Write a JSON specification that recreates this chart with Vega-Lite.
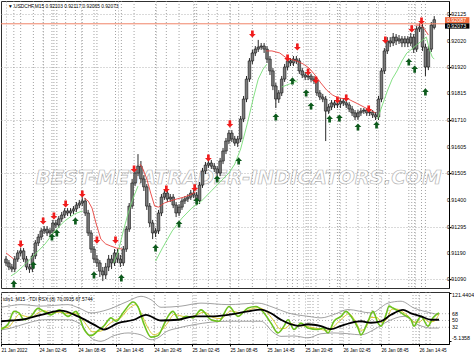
{
"$schema":"https://vega.github.io/schema/vega-lite/v6.json",
"padding":0,
"background":"white",
"config":{"view":{"stroke":"#303030","strokeWidth":1},"axis":{"labelFont":"Liberation Sans","labelColor":"#000","domainColor":"#000","tickColor":"#000","titleFontSize":0,"titlePadding":0,"labelOverlap":false}},
"datasets":{
"pticks":[{"v":0.92125},{"v":0.9202},{"v":0.9192},{"v":0.91815},{"v":0.9171},{"v":0.91605},{"v":0.91505},{"v":0.914},{"v":0.91295},{"v":0.9119},{"v":0.9109}],
"candles":[
{"k":0,"o":0.91168,"h":0.9118,"l":0.91141,"c":0.91153},{"k":3,"o":0.91153,"h":0.91164,"l":0.91125,"c":0.91137},{"k":6,"o":0.91137,"h":0.91149,"l":0.91117,"c":0.91129},{"k":9,"o":0.91129,"h":0.9118,"l":0.91117,"c":0.91168},{"k":12,"o":0.91168,"h":0.91203,"l":0.91157,"c":0.91192},{"k":15,"o":0.91192,"h":0.91211,"l":0.9118,"c":0.912},{"k":18,"o":0.912,"h":0.91211,"l":0.91157,"c":0.91168},{"k":21,"o":0.91168,"h":0.9118,"l":0.91125,"c":0.91137},{"k":24,"o":0.91137,"h":0.91149,"l":0.91114,"c":0.91129},{"k":27,"o":0.91129,"h":0.91192,"l":0.91117,"c":0.9118},
{"k":30,"o":0.9118,"h":0.91242,"l":0.91168,"c":0.91231},{"k":33,"o":0.91231,"h":0.91266,"l":0.91219,"c":0.91254},{"k":36,"o":0.91254,"h":0.91289,"l":0.91242,"c":0.91278},{"k":39,"o":0.91278,"h":0.91297,"l":0.91266,"c":0.91285},{"k":42,"o":0.91285,"h":0.91297,"l":0.91258,"c":0.9127},{"k":45,"o":0.9127,"h":0.91289,"l":0.91258,"c":0.91278},{"k":48,"o":0.91278,"h":0.91321,"l":0.91266,"c":0.91309},{"k":51,"o":0.91309,"h":0.91321,"l":0.91289,"c":0.91301},{"k":54,"o":0.91301,"h":0.91336,"l":0.91289,"c":0.91325},{"k":57,"o":0.91325,"h":0.91352,"l":0.91313,"c":0.9134},
{"k":60,"o":0.9134,"h":0.91367,"l":0.91328,"c":0.91356},{"k":63,"o":0.91356,"h":0.91367,"l":0.91336,"c":0.91348},{"k":66,"o":0.91348,"h":0.91367,"l":0.91336,"c":0.91356},{"k":69,"o":0.91356,"h":0.91375,"l":0.91344,"c":0.91364},{"k":72,"o":0.91364,"h":0.91391,"l":0.91352,"c":0.91379},{"k":75,"o":0.91379,"h":0.91399,"l":0.91367,"c":0.91387},{"k":78,"o":0.91387,"h":0.9141,"l":0.91375,"c":0.91395},{"k":81,"o":0.91395,"h":0.91406,"l":0.91336,"c":0.91348},{"k":84,"o":0.91348,"h":0.9136,"l":0.91258,"c":0.9127},{"k":87,"o":0.9127,"h":0.91281,"l":0.91192,"c":0.91207},
{"k":90,"o":0.91207,"h":0.91219,"l":0.91153,"c":0.91168},{"k":93,"o":0.91168,"h":0.91184,"l":0.91137,"c":0.91153},{"k":96,"o":0.91153,"h":0.91164,"l":0.91098,"c":0.91121},{"k":99,"o":0.91121,"h":0.91137,"l":0.91082,"c":0.91106},{"k":102,"o":0.91106,"h":0.91153,"l":0.9109,"c":0.91137},{"k":105,"o":0.91137,"h":0.91184,"l":0.91121,"c":0.91168},{"k":108,"o":0.91168,"h":0.91184,"l":0.91129,"c":0.91153},{"k":111,"o":0.91153,"h":0.91207,"l":0.91141,"c":0.91192},{"k":114,"o":0.91192,"h":0.91207,"l":0.91153,"c":0.91168},{"k":117,"o":0.91168,"h":0.91184,"l":0.91137,"c":0.91153},
{"k":120,"o":0.91153,"h":0.91219,"l":0.91141,"c":0.91207},{"k":123,"o":0.91207,"h":0.91297,"l":0.91196,"c":0.91285},{"k":126,"o":0.91285,"h":0.91387,"l":0.91274,"c":0.91375},{"k":129,"o":0.91375,"h":0.91481,"l":0.91364,"c":0.91465},{"k":132,"o":0.91465,"h":0.9152,"l":0.91453,"c":0.91504},{"k":135,"o":0.91504,"h":0.91578,"l":0.91492,"c":0.91531},{"k":138,"o":0.91531,"h":0.91551,"l":0.91465,"c":0.91481},{"k":141,"o":0.91481,"h":0.91496,"l":0.91434,"c":0.9145},{"k":144,"o":0.9145,"h":0.91461,"l":0.9136,"c":0.91375},{"k":147,"o":0.91375,"h":0.91387,"l":0.91293,"c":0.91309},
{"k":150,"o":0.91309,"h":0.91321,"l":0.91246,"c":0.9127},{"k":153,"o":0.9127,"h":0.91289,"l":0.91254,"c":0.91278},{"k":156,"o":0.91278,"h":0.9136,"l":0.91266,"c":0.91348},{"k":159,"o":0.91348,"h":0.91422,"l":0.91336,"c":0.9141},{"k":162,"o":0.9141,"h":0.91438,"l":0.91399,"c":0.91426},{"k":165,"o":0.91426,"h":0.91438,"l":0.91391,"c":0.91403},{"k":168,"o":0.91403,"h":0.91422,"l":0.91391,"c":0.9141},{"k":171,"o":0.9141,"h":0.91422,"l":0.91367,"c":0.91379},{"k":174,"o":0.91379,"h":0.91391,"l":0.91332,"c":0.91348},{"k":177,"o":0.91348,"h":0.91383,"l":0.91336,"c":0.91371},
{"k":180,"o":0.91371,"h":0.91406,"l":0.9136,"c":0.91395},{"k":183,"o":0.91395,"h":0.91414,"l":0.91383,"c":0.91403},{"k":186,"o":0.91403,"h":0.91422,"l":0.91391,"c":0.9141},{"k":189,"o":0.9141,"h":0.91438,"l":0.91399,"c":0.91426},{"k":192,"o":0.91426,"h":0.91438,"l":0.91406,"c":0.91418},{"k":195,"o":0.91418,"h":0.9143,"l":0.91379,"c":0.91395},{"k":198,"o":0.91395,"h":0.91469,"l":0.91383,"c":0.91457},{"k":201,"o":0.91457,"h":0.91524,"l":0.91446,"c":0.91512},{"k":204,"o":0.91512,"h":0.91547,"l":0.915,"c":0.91535},{"k":207,"o":0.91535,"h":0.91555,"l":0.91524,"c":0.91543},
{"k":210,"o":0.91543,"h":0.91555,"l":0.9152,"c":0.91531},{"k":213,"o":0.91531,"h":0.91543,"l":0.91508,"c":0.9152},{"k":216,"o":0.9152,"h":0.91531,"l":0.91489,"c":0.91504},{"k":219,"o":0.91504,"h":0.91563,"l":0.91492,"c":0.91551},{"k":222,"o":0.91551,"h":0.91602,"l":0.91539,"c":0.9159},{"k":225,"o":0.9159,"h":0.91641,"l":0.91578,"c":0.91629},{"k":228,"o":0.91629,"h":0.91672,"l":0.91617,"c":0.9166},{"k":231,"o":0.9166,"h":0.91672,"l":0.91625,"c":0.91637},{"k":234,"o":0.91637,"h":0.91649,"l":0.9161,"c":0.91621},{"k":237,"o":0.91621,"h":0.91649,"l":0.91606,"c":0.91637},
{"k":240,"o":0.91637,"h":0.91727,"l":0.91625,"c":0.91715},{"k":243,"o":0.91715,"h":0.91805,"l":0.91703,"c":0.91793},{"k":246,"o":0.91793,"h":0.91883,"l":0.91781,"c":0.91871},{"k":249,"o":0.91871,"h":0.91953,"l":0.9186,"c":0.91942},{"k":252,"o":0.91942,"h":0.91985,"l":0.9193,"c":0.91973},{"k":255,"o":0.91973,"h":0.92,"l":0.91961,"c":0.91988},{"k":258,"o":0.91988,"h":0.92024,"l":0.91977,"c":0.91996},{"k":261,"o":0.91996,"h":0.92012,"l":0.91985,"c":0.92},{"k":264,"o":0.92,"h":0.92012,"l":0.91973,"c":0.91988},{"k":267,"o":0.91988,"h":0.92,"l":0.91934,"c":0.91949},
{"k":270,"o":0.91949,"h":0.91961,"l":0.91887,"c":0.91903},{"k":273,"o":0.91903,"h":0.91914,"l":0.91828,"c":0.91844},{"k":276,"o":0.91844,"h":0.91856,"l":0.91758,"c":0.91793},{"k":279,"o":0.91793,"h":0.91828,"l":0.91778,"c":0.91817},{"k":282,"o":0.91817,"h":0.91883,"l":0.91805,"c":0.91871},{"k":285,"o":0.91871,"h":0.9193,"l":0.9186,"c":0.91918},{"k":288,"o":0.91918,"h":0.91953,"l":0.91906,"c":0.91942},{"k":291,"o":0.91942,"h":0.91953,"l":0.91922,"c":0.91934},{"k":294,"o":0.91934,"h":0.91961,"l":0.91922,"c":0.91949},{"k":297,"o":0.91949,"h":0.91961,"l":0.9193,"c":0.91942},
{"k":300,"o":0.91942,"h":0.91953,"l":0.91891,"c":0.91903},{"k":303,"o":0.91903,"h":0.91914,"l":0.91875,"c":0.91887},{"k":306,"o":0.91887,"h":0.91899,"l":0.91867,"c":0.91879},{"k":309,"o":0.91879,"h":0.91891,"l":0.91867,"c":0.91883},{"k":312,"o":0.91883,"h":0.91891,"l":0.9186,"c":0.91871},{"k":315,"o":0.91871,"h":0.91883,"l":0.91852,"c":0.91864},{"k":318,"o":0.91864,"h":0.91875,"l":0.91805,"c":0.91817},{"k":321,"o":0.91817,"h":0.91828,"l":0.91789,"c":0.91801},{"k":324,"o":0.91801,"h":0.91813,"l":0.91781,"c":0.91793},{"k":327,"o":0.91793,"h":0.91805,"l":0.91629,"c":0.91746},
{"k":330,"o":0.91746,"h":0.91774,"l":0.91735,"c":0.91762},{"k":333,"o":0.91762,"h":0.91789,"l":0.9175,"c":0.91778},{"k":336,"o":0.91778,"h":0.91789,"l":0.91758,"c":0.9177},{"k":339,"o":0.9177,"h":0.91781,"l":0.91758,"c":0.91774},{"k":342,"o":0.91774,"h":0.91797,"l":0.91758,"c":0.91785},{"k":345,"o":0.91785,"h":0.91797,"l":0.91766,"c":0.91778},{"k":348,"o":0.91778,"h":0.91789,"l":0.91758,"c":0.9177},{"k":351,"o":0.9177,"h":0.91781,"l":0.91742,"c":0.91754},{"k":354,"o":0.91754,"h":0.91766,"l":0.91727,"c":0.91739},{"k":357,"o":0.91739,"h":0.9175,"l":0.91711,"c":0.91723},
{"k":360,"o":0.91723,"h":0.9175,"l":0.91711,"c":0.91739},{"k":363,"o":0.91739,"h":0.91758,"l":0.91727,"c":0.91746},{"k":366,"o":0.91746,"h":0.91758,"l":0.91735,"c":0.9175},{"k":369,"o":0.9175,"h":0.91758,"l":0.91727,"c":0.91739},{"k":372,"o":0.91739,"h":0.9175,"l":0.91727,"c":0.91742},{"k":375,"o":0.91742,"h":0.9175,"l":0.91719,"c":0.91731},{"k":378,"o":0.91731,"h":0.91742,"l":0.91711,"c":0.91723},{"k":381,"o":0.91723,"h":0.91805,"l":0.91711,"c":0.91793},{"k":384,"o":0.91793,"h":0.91914,"l":0.91781,"c":0.91903},{"k":387,"o":0.91903,"h":0.91992,"l":0.91891,"c":0.91981},
{"k":390,"o":0.91981,"h":0.92035,"l":0.91969,"c":0.9202},{"k":393,"o":0.9202,"h":0.92035,"l":0.91996,"c":0.92012},{"k":396,"o":0.92012,"h":0.92051,"l":0.92,"c":0.92035},{"k":399,"o":0.92035,"h":0.92047,"l":0.92004,"c":0.9202},{"k":402,"o":0.9202,"h":0.92043,"l":0.92008,"c":0.92028},{"k":405,"o":0.92028,"h":0.92039,"l":0.91996,"c":0.92012},{"k":408,"o":0.92012,"h":0.92039,"l":0.91996,"c":0.92028},{"k":411,"o":0.92028,"h":0.92039,"l":0.91996,"c":0.92012},{"k":414,"o":0.92012,"h":0.92051,"l":0.92,"c":0.92035},{"k":417,"o":0.92035,"h":0.92047,"l":0.91973,"c":0.91988},
{"k":420,"o":0.91988,"h":0.92078,"l":0.91977,"c":0.92067},{"k":423,"o":0.92067,"h":0.9209,"l":0.92055,"c":0.92074},{"k":426,"o":0.92074,"h":0.92086,"l":0.91981,"c":0.91996},{"k":429,"o":0.91996,"h":0.92008,"l":0.91883,"c":0.91918},{"k":432,"o":0.91918,"h":0.92,"l":0.91906,"c":0.91988},{"k":435,"o":0.91988,"h":0.92094,"l":0.91977,"c":0.92082},{"k":438,"o":0.92103,"h":0.92117,"l":0.92065,"c":0.92073}
],
"arrows":[
{"k":15,"p":0.91227,"d":"down"},{"k":38,"p":0.91317,"d":"down"},{"k":49,"p":0.91336,"d":"down"},{"k":61,"p":0.91383,"d":"down"},{"k":78,"p":0.91422,"d":"down"},{"k":93,"p":0.91242,"d":"down"},{"k":112,"p":0.91242,"d":"down"},{"k":131,"p":0.9152,"d":"down"},{"k":164,"p":0.91442,"d":"down"},{"k":193,"p":0.91446,"d":"down"},{"k":207,"p":0.91563,"d":"down"},{"k":229,"p":0.91696,"d":"down"},{"k":252,"p":0.92047,"d":"down"},{"k":288,"p":0.91953,"d":"down"},{"k":298,"p":0.91996,"d":"down"},{"k":309,"p":0.91899,"d":"down"},{"k":317,"p":0.91867,"d":"down"},{"k":339,"p":0.91789,"d":"down"},{"k":348,"p":0.91797,"d":"down"},{"k":371,"p":0.91754,"d":"down"},{"k":388,"p":0.92024,"d":"down"},{"k":415,"p":0.92067,"d":"down"},{"k":425,"p":0.92098,"d":"down"},
{"k":8,"p":0.91071,"d":"up"},{"k":28,"p":0.91145,"d":"up"},{"k":47,"p":0.91254,"d":"up"},{"k":52,"p":0.9127,"d":"up"},{"k":71,"p":0.91317,"d":"up"},{"k":90,"p":0.91106,"d":"up"},{"k":118,"p":0.91094,"d":"up"},{"k":153,"p":0.91211,"d":"up"},{"k":177,"p":0.91305,"d":"up"},{"k":195,"p":0.91395,"d":"up"},{"k":216,"p":0.91481,"d":"up"},{"k":238,"p":0.91551,"d":"up"},{"k":276,"p":0.91723,"d":"up"},{"k":293,"p":0.91864,"d":"up"},{"k":307,"p":0.91817,"d":"up"},{"k":312,"p":0.91766,"d":"up"},{"k":331,"p":0.91715,"d":"up"},{"k":341,"p":0.91719,"d":"up"},{"k":360,"p":0.91684,"d":"up"},{"k":379,"p":0.91692,"d":"up"},{"k":412,"p":0.91938,"d":"up"},{"k":418,"p":0.9191,"d":"up"},{"k":429,"p":0.91821,"d":"up"}
],
"trail":[
{"k":0,"p":0.91192,"t":"dn","s":"r1"},{"k":8,"p":0.91168,"t":"dn","s":"r1"},
{"k":80,"p":0.91406,"t":"dn","s":"r2"},{"k":84,"p":0.91395,"t":"dn","s":"r2"},{"k":88,"p":0.91367,"t":"dn","s":"r2"},{"k":92,"p":0.91309,"t":"dn","s":"r2"},{"k":97,"p":0.91246,"t":"dn","s":"r2"},{"k":102,"p":0.91227,"t":"dn","s":"r2"},{"k":107,"p":0.91219,"t":"dn","s":"r2"},{"k":113,"p":0.91211,"t":"dn","s":"r2"},{"k":119,"p":0.91207,"t":"dn","s":"r2"},
{"k":137,"p":0.91539,"t":"dn","s":"r3"},{"k":140,"p":0.9152,"t":"dn","s":"r3"},{"k":144,"p":0.91481,"t":"dn","s":"r3"},{"k":148,"p":0.91426,"t":"dn","s":"r3"},{"k":152,"p":0.91375,"t":"dn","s":"r3"},{"k":156,"p":0.91371,"t":"dn","s":"r3"},{"k":162,"p":0.91387,"t":"dn","s":"r3"},{"k":168,"p":0.91395,"t":"dn","s":"r3"},{"k":175,"p":0.91403,"t":"dn","s":"r3"},{"k":182,"p":0.9141,"t":"dn","s":"r3"},{"k":188,"p":0.91418,"t":"dn","s":"r3"},{"k":194,"p":0.9143,"t":"dn","s":"r3"},
{"k":266,"p":0.91981,"t":"dn","s":"r4"},{"k":272,"p":0.91981,"t":"dn","s":"r4"},{"k":280,"p":0.91973,"t":"dn","s":"r4"},{"k":287,"p":0.91953,"t":"dn","s":"r4"},{"k":297,"p":0.91942,"t":"dn","s":"r4"},{"k":304,"p":0.9193,"t":"dn","s":"r4"},{"k":310,"p":0.91914,"t":"dn","s":"r4"},{"k":316,"p":0.91887,"t":"dn","s":"r4"},{"k":322,"p":0.91856,"t":"dn","s":"r4"},{"k":328,"p":0.91828,"t":"dn","s":"r4"},{"k":334,"p":0.91809,"t":"dn","s":"r4"},{"k":340,"p":0.91797,"t":"dn","s":"r4"},{"k":350,"p":0.91793,"t":"dn","s":"r4"},{"k":360,"p":0.91774,"t":"dn","s":"r4"},{"k":370,"p":0.91754,"t":"dn","s":"r4"},{"k":378,"p":0.91739,"t":"dn","s":"r4"},
{"k":419,"p":0.92082,"t":"dn","s":"r5"},{"k":424,"p":0.92082,"t":"dn","s":"r5"},{"k":428,"p":0.92067,"t":"dn","s":"r5"},{"k":432,"p":0.92043,"t":"dn","s":"r5"},
{"k":5,"p":0.91102,"t":"up","s":"g1"},{"k":10,"p":0.91114,"t":"up","s":"g1"},{"k":20,"p":0.91149,"t":"up","s":"g1"},{"k":30,"p":0.91188,"t":"up","s":"g1"},{"k":40,"p":0.91227,"t":"up","s":"g1"},{"k":50,"p":0.91278,"t":"up","s":"g1"},{"k":60,"p":0.91317,"t":"up","s":"g1"},{"k":70,"p":0.91344,"t":"up","s":"g1"},{"k":78,"p":0.91356,"t":"up","s":"g1"},
{"k":110,"p":0.91153,"t":"up","s":"g2"},{"k":115,"p":0.912,"t":"up","s":"g2"},{"k":120,"p":0.91278,"t":"up","s":"g2"},{"k":125,"p":0.91348,"t":"up","s":"g2"},{"k":130,"p":0.91406,"t":"up","s":"g2"},{"k":135,"p":0.91453,"t":"up","s":"g2"},
{"k":153,"p":0.9116,"t":"up","s":"g3"},{"k":160,"p":0.91211,"t":"up","s":"g3"},{"k":170,"p":0.91278,"t":"up","s":"g3"},{"k":180,"p":0.91328,"t":"up","s":"g3"},{"k":190,"p":0.91367,"t":"up","s":"g3"},{"k":200,"p":0.91395,"t":"up","s":"g3"},{"k":210,"p":0.91434,"t":"up","s":"g3"},{"k":220,"p":0.91473,"t":"up","s":"g3"},{"k":228,"p":0.91504,"t":"up","s":"g3"},{"k":234,"p":0.91539,"t":"up","s":"g3"},{"k":240,"p":0.91598,"t":"up","s":"g3"},{"k":247,"p":0.917,"t":"up","s":"g3"},{"k":253,"p":0.91797,"t":"up","s":"g3"},{"k":258,"p":0.91871,"t":"up","s":"g3"},{"k":263,"p":0.9191,"t":"up","s":"g3"},{"k":267,"p":0.9193,"t":"up","s":"g3"},
{"k":282,"p":0.9184,"t":"up","s":"g4"},{"k":290,"p":0.91852,"t":"up","s":"g4"},{"k":298,"p":0.91864,"t":"up","s":"g4"},
{"k":380,"p":0.91715,"t":"up","s":"g5"},{"k":385,"p":0.9177,"t":"up","s":"g5"},{"k":390,"p":0.91824,"t":"up","s":"g5"},{"k":395,"p":0.91871,"t":"up","s":"g5"},{"k":400,"p":0.91903,"t":"up","s":"g5"},{"k":405,"p":0.91942,"t":"up","s":"g5"},{"k":410,"p":0.91973,"t":"up","s":"g5"},{"k":415,"p":0.91988,"t":"up","s":"g5"},{"k":420,"p":0.92004,"t":"up","s":"g5"},{"k":425,"p":0.9202,"t":"up","s":"g5"},{"k":430,"p":0.92035,"t":"up","s":"g5"},{"k":433,"p":0.91988,"t":"up","s":"g5"},{"k":436,"p":0.91957,"t":"up","s":"g5"},{"k":438,"p":0.91949,"t":"up","s":"g5"}
],
"tdi":[
{"k":0,"v":85,"n":"up"},{"k":7,"v":88,"n":"up"},{"k":20,"v":92,"n":"up"},{"k":40,"v":88,"n":"up"},{"k":67,"v":92,"n":"up"},{"k":78,"v":83,"n":"up"},{"k":90,"v":70,"n":"up"},{"k":107,"v":79,"n":"up"},{"k":127,"v":101,"n":"up"},{"k":140,"v":114,"n":"up"},{"k":150,"v":105,"n":"up"},{"k":160,"v":85,"n":"up"},{"k":180,"v":88,"n":"up"},{"k":200,"v":96,"n":"up"},{"k":227,"v":92,"n":"up"},{"k":257,"v":96,"n":"up"},{"k":272,"v":85,"n":"up"},{"k":287,"v":70,"n":"up"},{"k":307,"v":61,"n":"up"},{"k":320,"v":57,"n":"up"},{"k":335,"v":68,"n":"up"},{"k":347,"v":79,"n":"up"},{"k":370,"v":70,"n":"up"},{"k":387,"v":96,"n":"up"},{"k":400,"v":101,"n":"up"},{"k":413,"v":83,"n":"up"},{"k":430,"v":70,"n":"up"},{"k":438,"v":65,"n":"up"},
{"k":0,"v":25,"n":"lo"},{"k":10,"v":30,"n":"lo"},{"k":25,"v":42,"n":"lo"},{"k":43,"v":52,"n":"lo"},{"k":67,"v":52,"n":"lo"},{"k":80,"v":39,"n":"lo"},{"k":90,"v":4,"n":"lo"},{"k":100,"v":-5,"n":"lo"},{"k":113,"v":10,"n":"lo"},{"k":127,"v":17,"n":"lo"},{"k":140,"v":12,"n":"lo"},{"k":150,"v":-1,"n":"lo"},{"k":157,"v":4,"n":"lo"},{"k":165,"v":20,"n":"lo"},{"k":177,"v":30,"n":"lo"},{"k":193,"v":39,"n":"lo"},{"k":227,"v":48,"n":"lo"},{"k":260,"v":48,"n":"lo"},{"k":273,"v":17,"n":"lo"},{"k":280,"v":8,"n":"lo"},{"k":293,"v":9,"n":"lo"},{"k":307,"v":4,"n":"lo"},{"k":320,"v":15,"n":"lo"},{"k":333,"v":17,"n":"lo"},{"k":347,"v":15,"n":"lo"},{"k":360,"v":12,"n":"lo"},{"k":373,"v":26,"n":"lo"},{"k":387,"v":48,"n":"lo"},{"k":403,"v":61,"n":"lo"},{"k":417,"v":39,"n":"lo"},{"k":430,"v":30,"n":"lo"},{"k":438,"v":30,"n":"lo"},
{"k":0,"v":30,"n":"sig"},{"k":7,"v":32,"n":"sig"},{"k":13,"v":50,"n":"sig"},{"k":18,"v":66,"n":"sig"},{"k":23,"v":62,"n":"sig"},{"k":30,"v":58,"n":"sig"},{"k":37,"v":70,"n":"sig"},{"k":43,"v":76,"n":"sig"},{"k":50,"v":70,"n":"sig"},{"k":58,"v":72,"n":"sig"},{"k":67,"v":68,"n":"sig"},{"k":75,"v":68,"n":"sig"},{"k":80,"v":58,"n":"sig"},{"k":85,"v":40,"n":"sig"},{"k":92,"v":20,"n":"sig"},{"k":100,"v":22,"n":"sig"},{"k":107,"v":38,"n":"sig"},{"k":113,"v":50,"n":"sig"},{"k":120,"v":58,"n":"sig"},{"k":128,"v":82,"n":"sig"},{"k":135,"v":92,"n":"sig"},{"k":140,"v":70,"n":"sig"},{"k":147,"v":30,"n":"sig"},{"k":153,"v":12,"n":"sig"},{"k":160,"v":22,"n":"sig"},{"k":167,"v":45,"n":"sig"},{"k":173,"v":66,"n":"sig"},{"k":180,"v":62,"n":"sig"},{"k":187,"v":58,"n":"sig"},{"k":195,"v":64,"n":"sig"},{"k":203,"v":72,"n":"sig"},{"k":212,"v":58,"n":"sig"},{"k":220,"v":55,"n":"sig"},{"k":230,"v":75,"n":"sig"},{"k":240,"v":70,"n":"sig"},{"k":248,"v":78,"n":"sig"},{"k":257,"v":84,"n":"sig"},{"k":265,"v":74,"n":"sig"},{"k":272,"v":52,"n":"sig"},{"k":279,"v":28,"n":"sig"},{"k":285,"v":30,"n":"sig"},{"k":290,"v":42,"n":"sig"},{"k":296,"v":36,"n":"sig"},{"k":303,"v":36,"n":"sig"},{"k":310,"v":32,"n":"sig"},{"k":318,"v":28,"n":"sig"},{"k":325,"v":24,"n":"sig"},{"k":330,"v":28,"n":"sig"},{"k":336,"v":42,"n":"sig"},{"k":343,"v":60,"n":"sig"},{"k":348,"v":68,"n":"sig"},{"k":354,"v":50,"n":"sig"},{"k":360,"v":24,"n":"sig"},{"k":365,"v":32,"n":"sig"},{"k":370,"v":58,"n":"sig"},{"k":376,"v":58,"n":"sig"},{"k":381,"v":44,"n":"sig"},{"k":386,"v":55,"n":"sig"},{"k":391,"v":80,"n":"sig"},{"k":396,"v":80,"n":"sig"},{"k":402,"v":72,"n":"sig"},{"k":408,"v":60,"n":"sig"},{"k":413,"v":46,"n":"sig"},{"k":418,"v":46,"n":"sig"},{"k":423,"v":54,"n":"sig"},{"k":428,"v":46,"n":"sig"},{"k":433,"v":48,"n":"sig"},{"k":438,"v":67.57,"n":"sig"},
{"k":0,"v":27,"n":"rsi"},{"k":7,"v":40,"n":"rsi"},{"k":13,"v":74,"n":"rsi"},{"k":18,"v":70,"n":"rsi"},{"k":23,"v":52,"n":"rsi"},{"k":30,"v":61,"n":"rsi"},{"k":37,"v":82,"n":"rsi"},{"k":43,"v":74,"n":"rsi"},{"k":50,"v":65,"n":"rsi"},{"k":58,"v":78,"n":"rsi"},{"k":67,"v":61,"n":"rsi"},{"k":75,"v":74,"n":"rsi"},{"k":78,"v":62,"n":"rsi"},{"k":83,"v":27,"n":"rsi"},{"k":90,"v":10,"n":"rsi"},{"k":97,"v":23,"n":"rsi"},{"k":103,"v":36,"n":"rsi"},{"k":110,"v":57,"n":"rsi"},{"k":115,"v":48,"n":"rsi"},{"k":123,"v":74,"n":"rsi"},{"k":132,"v":99,"n":"rsi"},{"k":137,"v":86,"n":"rsi"},{"k":143,"v":40,"n":"rsi"},{"k":150,"v":6,"n":"rsi"},{"k":157,"v":10,"n":"rsi"},{"k":163,"v":40,"n":"rsi"},{"k":167,"v":61,"n":"rsi"},{"k":172,"v":74,"n":"rsi"},{"k":178,"v":52,"n":"rsi"},{"k":185,"v":61,"n":"rsi"},{"k":192,"v":57,"n":"rsi"},{"k":200,"v":78,"n":"rsi"},{"k":210,"v":52,"n":"rsi"},{"k":218,"v":48,"n":"rsi"},{"k":228,"v":87,"n":"rsi"},{"k":237,"v":61,"n":"rsi"},{"k":247,"v":83,"n":"rsi"},{"k":255,"v":87,"n":"rsi"},{"k":263,"v":70,"n":"rsi"},{"k":270,"v":43,"n":"rsi"},{"k":277,"v":17,"n":"rsi"},{"k":283,"v":35,"n":"rsi"},{"k":287,"v":52,"n":"rsi"},{"k":293,"v":26,"n":"rsi"},{"k":300,"v":43,"n":"rsi"},{"k":307,"v":30,"n":"rsi"},{"k":317,"v":26,"n":"rsi"},{"k":322,"v":30,"n":"rsi"},{"k":327,"v":17,"n":"rsi"},{"k":333,"v":48,"n":"rsi"},{"k":340,"v":61,"n":"rsi"},{"k":345,"v":74,"n":"rsi"},{"k":350,"v":61,"n":"rsi"},{"k":357,"v":30,"n":"rsi"},{"k":360,"v":12,"n":"rsi"},{"k":367,"v":48,"n":"rsi"},{"k":372,"v":74,"n":"rsi"},{"k":377,"v":43,"n":"rsi"},{"k":380,"v":35,"n":"rsi"},{"k":385,"v":65,"n":"rsi"},{"k":388,"v":88,"n":"rsi"},{"k":392,"v":83,"n":"rsi"},{"k":398,"v":74,"n":"rsi"},{"k":403,"v":65,"n":"rsi"},{"k":410,"v":52,"n":"rsi"},{"k":413,"v":35,"n":"rsi"},{"k":417,"v":52,"n":"rsi"},{"k":420,"v":61,"n":"rsi"},{"k":427,"v":35,"n":"rsi"},{"k":432,"v":57,"n":"rsi"},{"k":435,"v":65,"n":"rsi"},{"k":438,"v":70.09,"n":"rsi"},
{"k":0,"v":48,"n":"base"},{"k":10,"v":50,"n":"base"},{"k":20,"v":52,"n":"base"},{"k":40,"v":65,"n":"base"},{"k":60,"v":76,"n":"base"},{"k":77,"v":61,"n":"base"},{"k":93,"v":39,"n":"base"},{"k":103,"v":26,"n":"base"},{"k":117,"v":43,"n":"base"},{"k":133,"v":52,"n":"base"},{"k":145,"v":65,"n":"base"},{"k":160,"v":50,"n":"base"},{"k":177,"v":52,"n":"base"},{"k":193,"v":61,"n":"base"},{"k":210,"v":61,"n":"base"},{"k":227,"v":65,"n":"base"},{"k":247,"v":74,"n":"base"},{"k":260,"v":79,"n":"base"},{"k":270,"v":69,"n":"base"},{"k":280,"v":52,"n":"base"},{"k":290,"v":40,"n":"base"},{"k":297,"v":36,"n":"base"},{"k":307,"v":40,"n":"base"},{"k":320,"v":35,"n":"base"},{"k":330,"v":27,"n":"base"},{"k":340,"v":36,"n":"base"},{"k":350,"v":44,"n":"base"},{"k":360,"v":48,"n":"base"},{"k":370,"v":44,"n":"base"},{"k":380,"v":48,"n":"base"},{"k":390,"v":65,"n":"base"},{"k":402,"v":78,"n":"base"},{"k":410,"v":69,"n":"base"},{"k":420,"v":61,"n":"base"},{"k":430,"v":52,"n":"base"},{"k":438,"v":52,"n":"base"}
]
},
"spacing":2,
"resolve":{"scale":{"x":"independent","y":"independent"}},
"vconcat":[
{
"width":448,"height":287,
"layer":[
{"data":{"name":"candles"},"mark":{"type":"rule","opacity":0},
 "encoding":{
  "x":{"field":"k","type":"quantitative","title":null,"scale":{"domain":[0,448],"nice":false,"zero":false},
       "axis":{"values":[0,38,77,115,153,191,229,266,304,342,380,418],"labels":false,"ticks":false,"domain":false,"grid":true,"gridDash":[1,2],"gridColor":"#b4b4b4","title":null}},
  "y":{"field":"c","type":"quantitative","title":null,"scale":{"domain":[0.91055,0.92176],"nice":false,"zero":false},
       "axis":{"orient":"right","values":[0.92125,0.9202,0.9192,0.91815,0.9171,0.91605,0.91505,0.914,0.91295,0.9119,0.9109],"labels":false,"grid":true,"gridDash":[1,2],"gridColor":"#b4b4b4","tickSize":2,"domain":true,"title":null}}}},
{"data":{"values":[{}]},"mark":{"type":"text","text":"BEST-METATRADER-INDICATORS.COM","font":"DejaVu Sans","fontSize":19.5,"fontWeight":"bold","fontStyle":"italic","fill":"#ffffff","stroke":"#b4b4b4","strokeWidth":0.7,"align":"center","baseline":"middle"},
 "encoding":{"x":{"datum":238,"type":"quantitative","title":null},"y":{"datum":0.91485,"type":"quantitative","title":null}}},
{"data":{"name":"arrows"},"mark":{"type":"rule","color":"#8c8c8c","strokeWidth":0.8,"strokeDash":[1,2]},
 "encoding":{"x":{"field":"k","type":"quantitative","title":null}}},
{"data":{"name":"candles"},"mark":{"type":"rule","color":"#111111","strokeWidth":0.9,"clip":true},
 "encoding":{"x":{"field":"k","type":"quantitative","title":null},"y":{"field":"l","type":"quantitative","title":null},"y2":{"field":"h"}}},
{"data":{"name":"candles"},"mark":{"type":"bar","size":2.6,"fill":"#7a7a7a","stroke":"#111111","strokeWidth":0.6,"clip":true},
 "encoding":{"x":{"field":"k","type":"quantitative","title":null},"y":{"field":"o","type":"quantitative","title":null},"y2":{"field":"c"}}},
{"data":{"name":"trail"},"mark":{"type":"line","strokeWidth":0.9,"clip":true},
 "encoding":{"x":{"field":"k","type":"quantitative","title":null},"y":{"field":"p","type":"quantitative","title":null},"detail":{"field":"s"},
  "color":{"field":"t","type":"nominal","scale":{"domain":["dn","up"],"range":["#e8413c","#78dc78"]},"legend":null}}},
{"data":{"values":[{}]},"mark":{"type":"rule","color":"#f08468","strokeWidth":1},
 "encoding":{"y":{"datum":0.92087,"type":"quantitative","title":null}}},
{"data":{"name":"arrows"},"transform":[{"filter":"datum.d == 'down'"}],
 "mark":{"type":"point","filled":true,"shape":"M-0.38,-1L0.38,-1L0.38,0L0.95,0L0,1L-0.95,0L-0.38,0Z","size":50,"color":"#f01c1c","opacity":1},
 "encoding":{"x":{"field":"k","type":"quantitative","title":null},"y":{"field":"p","type":"quantitative","title":null}}},
{"data":{"name":"arrows"},"transform":[{"filter":"datum.d == 'up'"}],
 "mark":{"type":"point","filled":true,"shape":"M-0.38,1L0.38,1L0.38,0L0.95,0L0,-1L-0.95,0L-0.38,0Z","size":50,"color":"#0d5a1c","opacity":1},
 "encoding":{"x":{"field":"k","type":"quantitative","title":null},"y":{"field":"p","type":"quantitative","title":null}}},
{"data":{"name":"pticks"},"mark":{"type":"text","color":"#000000","font":"Liberation Sans","fontSize":5.3,"align":"left","baseline":"middle","clip":false},
 "encoding":{"x":{"datum":451,"type":"quantitative","title":null},"y":{"field":"v","type":"quantitative","title":null},"text":{"field":"v","type":"quantitative","format":".5f"}}},
{"data":{"values":[{}]},"mark":{"type":"rect","color":"#f06a3c","clip":false},
 "encoding":{"x":{"datum":449,"type":"quantitative","title":null},"x2":{"datum":474},"y":{"datum":0.92113,"type":"quantitative","title":null},"y2":{"datum":0.92089}}},
{"data":{"values":[{}]},"mark":{"type":"rect","color":"#000000","clip":false},
 "encoding":{"x":{"datum":449,"type":"quantitative","title":null},"x2":{"datum":474},"y":{"datum":0.92089,"type":"quantitative","title":null},"y2":{"datum":0.92068}}},
{"data":{"values":[{}]},"mark":{"type":"text","text":"0.92087","color":"#ffffff","font":"Liberation Sans","fontSize":5.3,"align":"left","baseline":"middle"},
 "encoding":{"x":{"datum":451,"type":"quantitative","title":null},"y":{"datum":0.92101,"type":"quantitative","title":null}}},
{"data":{"values":[{}]},"mark":{"type":"text","text":"0.92073","color":"#ffffff","font":"Liberation Sans","fontSize":5.3,"align":"left","baseline":"middle"},
 "encoding":{"x":{"datum":451,"type":"quantitative","title":null},"y":{"datum":0.92079,"type":"quantitative","title":null}}},
{"data":{"values":[{}]},"mark":{"type":"text","text":"▼ USDCHF,M15  0.92103 0.92117 0.92065 0.92073","color":"#000000","font":"Liberation Sans","fontSize":4.8,"align":"left","baseline":"middle"},
 "encoding":{"x":{"datum":2,"type":"quantitative","title":null},"y":{"datum":0.92153,"type":"quantitative","title":null}}}
]
},
{
"width":448,"height":52,
"layer":[
{"data":{"values":[{"lv":68},{"lv":50},{"lv":32}]},"mark":{"type":"rule","color":"#a0a0a0","strokeWidth":0.8,"strokeDash":[1,2]},
 "encoding":{"y":{"field":"lv","type":"quantitative","title":null,"scale":{"domain":[-12.2,125.4],"nice":false,"zero":false},
  "axis":{"orient":"right","values":[121.4404,68,50,32,-5.1358],"labels":false,"grid":false,"tickSize":2,"title":null}}}},
{"data":{"name":"arrows"},"mark":{"type":"rule","color":"#8c8c8c","strokeWidth":0.8,"strokeDash":[1,2]},
 "encoding":{"x":{"field":"k","type":"quantitative","title":null,"scale":{"domain":[0,448],"nice":false,"zero":false},
  "axis":{"values":[0,38,77,115,153,191,229,266,304,342,380,418],"labelExpr":"['21 Jan 2022','24 Jan 02:45','24 Jan 08:45','24 Jan 14:45','24 Jan 20:45','25 Jan 02:45','25 Jan 08:45','25 Jan 14:45','25 Jan 20:45','26 Jan 02:45','26 Jan 08:45','26 Jan 14:45'][indexof([0,38,77,115,153,191,229,266,304,342,380,418], datum.value)]","labelAlign":"left","labelFontSize":4.7,"tickSize":2,"labelPadding":1,"labelOverlap":false,"labelFlush":false,"grid":true,"gridDash":[1,2],"gridColor":"#b4b4b4","title":null}}}},
{"data":{"name":"tdi"},"transform":[{"filter":"datum.n == 'up' || datum.n == 'lo'"}],"mark":{"type":"line","color":"#8a8a8a","strokeWidth":0.8,"interpolate":"monotone","clip":true},
 "encoding":{"x":{"field":"k","type":"quantitative","title":null},"y":{"field":"v","type":"quantitative","title":null},"detail":{"field":"n"}}},
{"data":{"name":"tdi"},"transform":[{"filter":"datum.n == 'sig'"}],"mark":{"type":"line","color":"#d9c21a","strokeWidth":0.9,"interpolate":"monotone","clip":true},
 "encoding":{"x":{"field":"k","type":"quantitative","title":null},"y":{"field":"v","type":"quantitative","title":null}}},
{"data":{"name":"tdi"},"transform":[{"filter":"datum.n == 'rsi'"}],"mark":{"type":"line","color":"#6cc21e","strokeWidth":1.6,"interpolate":"monotone","clip":true},
 "encoding":{"x":{"field":"k","type":"quantitative","title":null},"y":{"field":"v","type":"quantitative","title":null}}},
{"data":{"name":"tdi"},"transform":[{"filter":"datum.n == 'base'"}],"mark":{"type":"line","color":"#000000","strokeWidth":1.8,"interpolate":"monotone","clip":true},
 "encoding":{"x":{"field":"k","type":"quantitative","title":null},"y":{"field":"v","type":"quantitative","title":null}}},
{"data":{"values":[{"lv":68},{"lv":50},{"lv":32}]},"mark":{"type":"text","color":"#000000","font":"Liberation Sans","fontSize":5.3,"align":"left","baseline":"middle","clip":false},
 "encoding":{"x":{"datum":451,"type":"quantitative","title":null},"y":{"field":"lv","type":"quantitative","title":null},"text":{"field":"lv","type":"quantitative","format":"d"}}},
{"data":{"values":[{}]},"mark":{"type":"text","text":"121.4404","color":"#000000","font":"Liberation Sans","fontSize":5.3,"align":"left","baseline":"top","clip":false},
 "encoding":{"x":{"datum":451,"type":"quantitative","title":null},"y":{"datum":121.4404,"type":"quantitative","title":null}}},
{"data":{"values":[{}]},"mark":{"type":"text","text":"-5.1358","color":"#000000","font":"Liberation Sans","fontSize":5.3,"align":"left","baseline":"bottom","clip":false},
 "encoding":{"x":{"datum":451,"type":"quantitative","title":null},"y":{"datum":-5.1358,"type":"quantitative","title":null}}},
{"data":{"values":[{}]},"mark":{"type":"text","text":"tdiv1: M15 - TDI RSX (8) 70.0935 67.5744","color":"#000000","font":"Liberation Sans","fontSize":4.8,"align":"left","baseline":"middle"},
 "encoding":{"x":{"datum":2,"type":"quantitative","title":null},"y":{"datum":104,"type":"quantitative","title":null}}}
]
}
]
}
